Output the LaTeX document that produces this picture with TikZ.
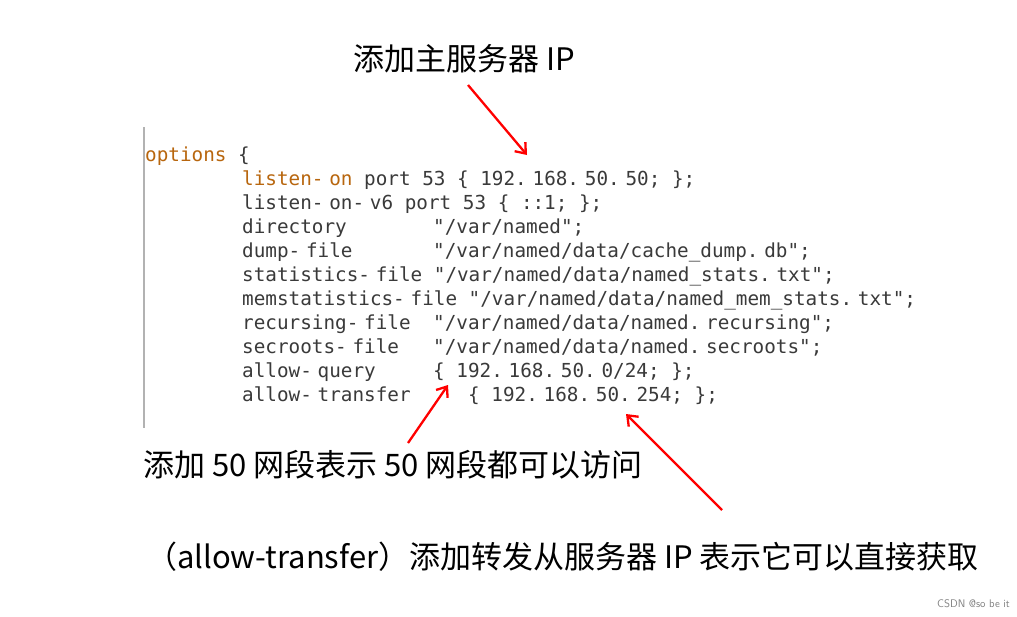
\documentclass[tikz,border=0pt]{standalone}
\usepackage{fontspec}
\usetikzlibrary{arrows.meta}
\newfontfamily\codefont{DejaVu Sans Mono}
\newfontfamily\cjk{Noto Sans CJK SC}
\setmainfont{Liberation Sans}
\definecolor{kw}{HTML}{B8660E}
\definecolor{txt}{HTML}{3A3A3A}
\newcommand{\gp}{\hspace{0.3em}}
\tikzset{
  code/.style={anchor=base west, inner sep=0pt, font=\codefont\fontsize{19.3}{19.3}\selectfont, text=txt},
  note/.style={anchor=base west, inner sep=0pt, font=\cjk\fontsize{31}{31}\selectfont, text=black},
  redarrow/.style={draw=red, line width=2.3pt, -{Straight Barb[length=9pt,width=14pt,line width=2.3pt]}}
}
\begin{document}
\begin{tikzpicture}[x=1pt,y=-1pt]
\useasboundingbox[fill=white] (0,0) rectangle (1017,616);
\draw[gray!60, line width=1.5pt] (144,127) -- (144,428);
\node[code] (l1) at (145,161) {\textcolor{kw}{options}~\{};
\node[code] (l2) at (242,185) {\textcolor{kw}{listen-\gp on}~port~53~\{~192.\gp168.\gp50.\gp50;~\};};
\node[code] (l3) at (242,209) {listen-\gp on-\gp v6~port~53~\{~::1;~\};};
\node[code] (l4) at (242,233) {directory};
\node[code] (v4) at (433,233) {"/var/named";};
\node[code] (l5) at (242,257) {dump-\gp file};
\node[code] (v5) at (433,257) {"/var/named/data/cache\_dump.\gp db";};
\node[code] (l6) at (242,281) {statistics-\gp file~"/var/named/data/named\_stats.\gp txt";};
\node[code] (l7) at (242,305) {memstatistics-\gp file~"/var/named/data/named\_mem\_stats.\gp txt";};
\node[code] (l8) at (242,329) {recursing-\gp file};
\node[code] (v8) at (433,329) {"/var/named/data/named.\gp recursing";};
\node[code] (l9) at (242,353) {secroots-\gp file};
\node[code] (v9) at (433,353) {"/var/named/data/named.\gp secroots";};
\node[code] (l10) at (242,377) {allow-\gp query};
\node[code] (v10) at (433,377) {\{~192.\gp168.\gp50.\gp0/24;~\};};
\node[code] (l11) at (242,401) {allow-\gp transfer};
\node[code] (v11) at (468,401) {\{~192.\gp168.\gp50.\gp254;~\};};

\node[note] (n1) at (353,70) {添加主服务器 IP};
\node[note] (n2) at (143,476) {添加 50 网段表示 50 网段都可以访问};
\node[note] (n3) at (146,568) {（allow-transfer）添加转发从服务器 IP 表示它可以直接获取};

\coordinate (a1s) at (468,85);  \coordinate (a1e) at (527,155);
\coordinate (a2s) at (408,443); \coordinate (a2e) at (448,385);
\coordinate (a3s) at (722,510); \coordinate (a3e) at (626,414);
\draw[redarrow] (a1s) -- (a1e);
\draw[redarrow] (a2s) -- (a2e);
\draw[redarrow] (a3s) -- (a3e);
\node[anchor=base east, inner sep=0pt, font=\sffamily\fontsize{11}{11}\selectfont, text=gray] (csdn) at (1010,607) {CSDN @so be it};
\end{tikzpicture}
\end{document}
